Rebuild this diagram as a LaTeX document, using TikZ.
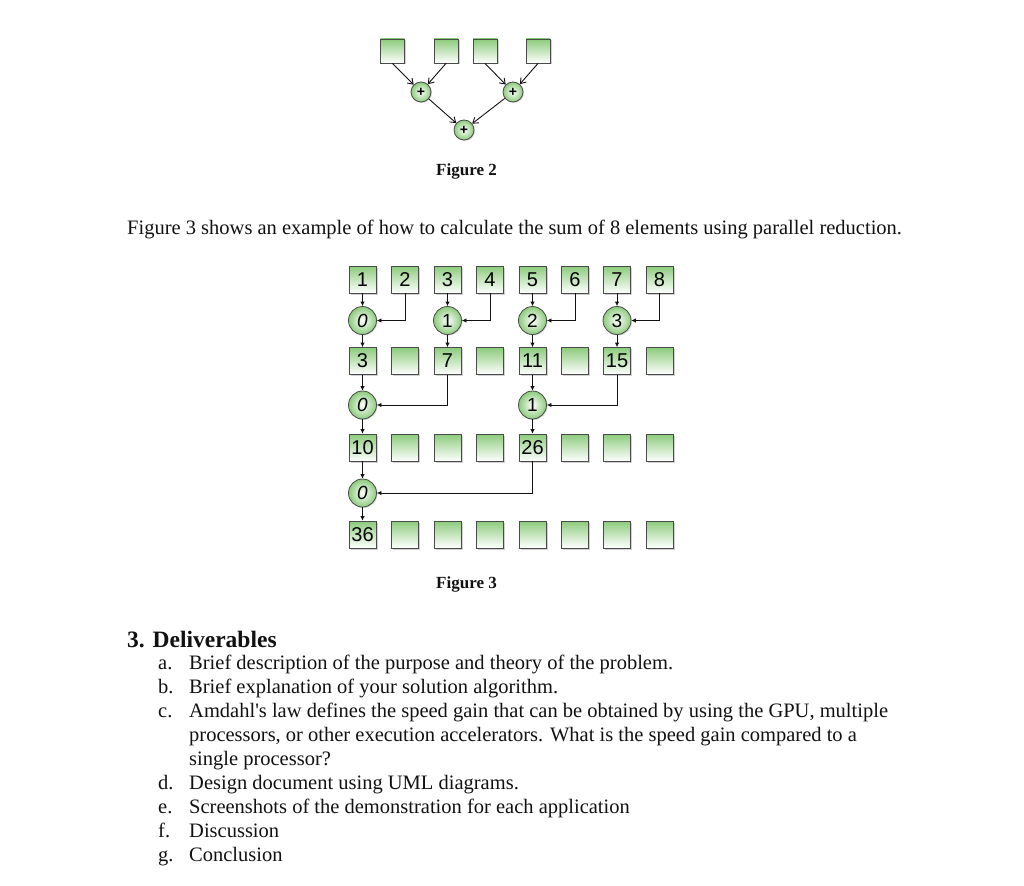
\documentclass[tikz,border=0pt]{standalone}
\usepackage{fontspec}
\setmainfont{Liberation Serif}
\newfontfamily\cifras{Liberation Sans}
\usetikzlibrary{arrows.meta,shadows}
\definecolor{verde}{HTML}{8CCB7C}
\definecolor{borde}{HTML}{4A4A4A}
\definecolor{tinta}{HTML}{111111}

\begin{document}
\begin{tikzpicture}[x=1pt,y=-1pt,
  caja/.style={draw=borde,line width=0.8pt,top color=verde,bottom color=white,minimum size=27pt,inner sep=0pt,font=\cifras\fontsize{20}{20}\selectfont,drop shadow={shadow xshift=1.5pt,shadow yshift=-1.5pt,fill=black!35}},
  cajita/.style={caja,minimum size=24pt},
  suma/.style={circle,draw=borde,line width=0.8pt,shading=radial,inner color=white,outer color=verde,minimum size=28pt,inner sep=0pt,font=\cifras\fontsize{19}{19}\selectfont,drop shadow={shadow xshift=1pt,shadow yshift=-1pt,fill=black!30}},
  sumita/.style={suma,minimum size=20pt,font=\cifras\bfseries\fontsize{14}{14}\selectfont},
  flecha/.style={-{Latex[length=4.5pt,width=4.5pt]},line width=0.8pt,tinta},
  flechita/.style={-{Straight Barb[length=5pt,width=7pt]},line width=0.9pt,tinta},
  texto/.style={anchor=base west,inner sep=0pt,font=\fontsize{20.5}{24}\selectfont,text=tinta},
  pie/.style={anchor=base,inner sep=0pt,font=\bfseries\fontsize{17}{20}\selectfont,text=tinta},
  titulo/.style={anchor=base west,inner sep=0pt,font=\bfseries\fontsize{23.5}{26}\selectfont,text=tinta}]
\useasboundingbox (0,0) rectangle (1024,885);
% figura 2
\node[cajita] (f1) at (392.5,51) {};
\node[cajita] (f2) at (446,51) {};
\node[cajita] (f3) at (485,51) {};
\node[cajita] (f4) at (538,51) {};
\node[sumita] (m1) at (421,92) {+};
\node[sumita] (m2) at (513,92) {+};
\node[sumita] (m3) at (464,130) {+};
\draw[flechita] (f1.south) -- (m1);
\draw[flechita] (f2.south) -- (m1);
\draw[flechita] (f3.south) -- (m2);
\draw[flechita] (f4.south) -- (m2);
\draw[flechita] (m1) -- (m3);
\draw[flechita] (m2) -- (m3);
\node[pie] (pie2) at (466.5,176) {Figure 2};
\node[texto] (intro) at (127,234) {Figure 3 shows an example of how to calculate the sum of 8 elements using parallel reduction.};
% figura 3
\node[caja] (a1) at (362.5,279.5) {1};
\node[caja] (a2) at (405,279.5) {2};
\node[caja] (a3) at (447.5,279.5) {3};
\node[caja] (a4) at (490,279.5) {4};
\node[caja] (a5) at (532.5,279.5) {5};
\node[caja] (a6) at (575,279.5) {6};
\node[caja] (a7) at (617,279.5) {7};
\node[caja] (a8) at (659.5,279.5) {8};
\node[suma] (n10) at (362.5,320.5) {\itshape 0};
\node[suma] (n11) at (447.5,320.5) {1};
\node[suma] (n12) at (532.5,320.5) {2};
\node[suma] (n13) at (617,320.5) {3};
\node[caja] (b1) at (362.5,361) {3};
\node[caja] (b2) at (405,361) {};
\node[caja] (b3) at (447.5,361) {7};
\node[caja] (b4) at (490,361) {};
\node[caja] (b5) at (532.5,361) {11};
\node[caja] (b6) at (575,361) {};
\node[caja] (b7) at (617,361) {15};
\node[caja] (b8) at (659.5,361) {};
\node[suma] (n20) at (362.5,405) {\itshape 0};
\node[suma] (n21) at (532.5,405) {1};
\node[caja] (c1) at (362.5,447.5) {10};
\node[caja] (c2) at (405,447.5) {};
\node[caja] (c3) at (447.5,447.5) {};
\node[caja] (c4) at (490,447.5) {};
\node[caja] (c5) at (532.5,447.5) {26};
\node[caja] (c6) at (575,447.5) {};
\node[caja] (c7) at (617,447.5) {};
\node[caja] (c8) at (659.5,447.5) {};
\node[suma] (n30) at (362.5,493) {\itshape 0};
\node[caja] (d1) at (362.5,534.5) {36};
\node[caja] (d2) at (405,534.5) {};
\node[caja] (d3) at (447.5,534.5) {};
\node[caja] (d4) at (490,534.5) {};
\node[caja] (d5) at (532.5,534.5) {};
\node[caja] (d6) at (575,534.5) {};
\node[caja] (d7) at (617,534.5) {};
\node[caja] (d8) at (659.5,534.5) {};
\draw[flecha] (a1) -- (n10);
\draw[flecha] (a2.south) |- (n10.east);
\draw[flecha] (a3) -- (n11);
\draw[flecha] (a4.south) |- (n11.east);
\draw[flecha] (a5) -- (n12);
\draw[flecha] (a6.south) |- (n12.east);
\draw[flecha] (a7) -- (n13);
\draw[flecha] (a8.south) |- (n13.east);
\draw[flecha] (n10) -- (b1);
\draw[flecha] (n11) -- (b3);
\draw[flecha] (n12) -- (b5);
\draw[flecha] (n13) -- (b7);
\draw[flecha] (b1) -- (n20);
\draw[flecha] (b3.south) |- (n20.east);
\draw[flecha] (b5) -- (n21);
\draw[flecha] (b7.south) |- (n21.east);
\draw[flecha] (n20) -- (c1);
\draw[flecha] (n21) -- (c5);
\draw[flecha] (c1) -- (n30);
\draw[flecha] (c5.south) |- (n30.east);
\draw[flecha] (n30) -- (d1);
\node[pie] (pie3) at (466.5,588) {Figure 3};
% entregables
\node[titulo] (entregables) at (127,647) {3. Deliverables};
\node[texto] (la) at (158,669) {a.};
\node[texto] (ia) at (189,669) {Brief description of the purpose and theory of the problem.};
\node[texto] (lb) at (158,693) {b.};
\node[texto] (ib) at (189,693) {Brief explanation of your solution algorithm.};
\node[texto] (lc) at (158,717) {c.};
\node[texto] (ic1) at (189,717) {Amdahl\textquotesingle s law defines the speed gain that can be obtained by using the GPU, multiple};
\node[texto] (ic2) at (189,741) {processors, or other execution accelerators. What is the speed gain compared to a};
\node[texto] (ic3) at (189,765) {single processor?};
\node[texto] (ld) at (158,789) {d.};
\node[texto] (id) at (189,789) {Design document using UML diagrams.};
\node[texto] (le) at (158,813) {e.};
\node[texto] (ie) at (189,813) {Screenshots of the demonstration for each application};
\node[texto] (lf) at (158,837) {f.};
\node[texto] (if) at (189,837) {Discussion};
\node[texto] (lg) at (158,861) {g.};
\node[texto] (ig) at (189,861) {Conclusion};
\end{tikzpicture}
\end{document}
